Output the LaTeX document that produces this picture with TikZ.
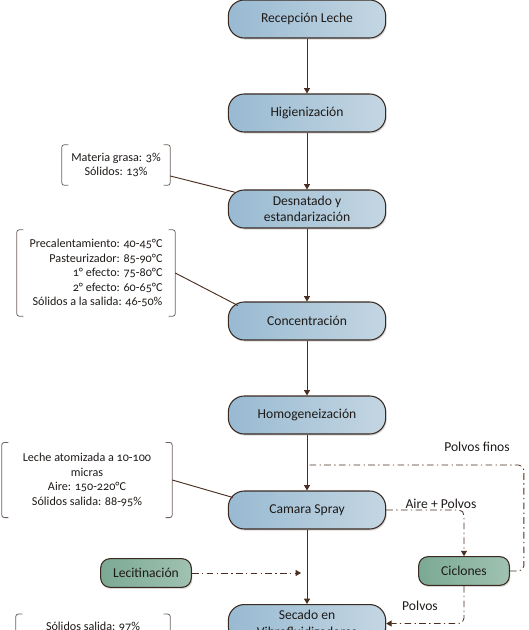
\documentclass[tikz,border=0pt]{standalone}
\usepackage{fontspec}
\setmainfont{Carlito}[Numbers=OldStyle]
\usepackage{xcolor}
\usepackage{tikz}
\usetikzlibrary{calc,arrows.meta,shadows}
\definecolor{ink}{HTML}{1E1A18}
\definecolor{brown}{HTML}{4A2E22}
\definecolor{edge}{HTML}{3A2A22}
\definecolor{brk}{HTML}{6E625C}
\definecolor{blueA}{HTML}{98BAD2}
\definecolor{blueB}{HTML}{C4D6E2}
\definecolor{greenA}{HTML}{7BA994}
\definecolor{greenB}{HTML}{A0C2B2}
\tikzset{
  step box/.style={draw=edge, line width=0.8pt, rounded corners=12pt,
    left color=blueA, right color=blueB, minimum width=118pt, minimum height=28.5pt,
    align=center, text=ink, font=\fontsize{10.2}{12.4}\selectfont,
    drop shadow={shadow xshift=0.8pt, shadow yshift=-1.2pt, opacity=0.3}},
  side box/.style={draw=edge, line width=0.8pt, rounded corners=7pt,
    left color=greenA, right color=greenB, minimum width=68pt, minimum height=21.5pt,
    text=ink, font=\fontsize{10.2}{12.4}\selectfont,
    drop shadow={shadow xshift=0.8pt, shadow yshift=-1.2pt, opacity=0.3}},
  note/.style={text=ink, font=\fontsize{9.1}{10.9}\selectfont, align=center, inner sep=0pt},
  flow/.style={draw=brown, line width=0.7pt, -{Triangle[width=4.5pt,length=4pt]}},
  link/.style={draw=brown, line width=0.7pt},
  back/.style={draw=brown, line width=0.6pt, rounded corners=4pt,
    dash pattern=on 5pt off 2.5pt on 1pt off 2.5pt},
  lab/.style={text=ink, font=\fontsize{10.2}{12.4}\selectfont},
  bracket/.style={draw=brk, line width=0.6pt, rounded corners=2pt},
}
% side brackets round a note
\newcommand{\notebrackets}[1]{%
  \draw[bracket] ([xshift=5pt]#1.north west) -- (#1.north west) -- (#1.south west) -- ([xshift=5pt]#1.south west);
  \draw[bracket] ([xshift=-5pt]#1.north east) -- (#1.north east) -- (#1.south east) -- ([xshift=-5pt]#1.south east);
}

\begin{document}
\begin{tikzpicture}[x=0.75pt,y=-0.75pt]
  \useasboundingbox (0,0) rectangle (528,630);
  \clip (0,0) rectangle (528,630);

  \node[step box] (rec) at (307,19) {Recepción Leche};
  \node[step box] (hig) at (307,113) {Higienización};
  \node[step box] (des) at (307,209) {Desnatado y\\estandarización};
  \node[step box] (con) at (307,321) {Concentración};
  \node[step box] (hom) at (307,415) {Homogeneización};
  \node[step box] (cam) at (307,510) {Camara Spray};
  \node[step box,anchor=north] (sec) at (307,604) {Secado en\\Vibrofluidizadores};

  \node[side box] (lec) at (146,573) {Lecitinación};
  \node[side box] (cic) at (464,571) {Ciclones};

  \node[note,minimum width=81pt,minimum height=30pt] (n1) at (116,165)
    {Materia grasa: 3\%\\Sólidos: 13\%};
  \node[note,align=right,minimum width=118.5pt,minimum height=64.5pt] (n2) at (96,273)
    {Precalentamiento: 40-45°C\\Pasteurizador: 85-90°C\\1° efecto: 75-80°C\\2° efecto: 60-65°C\\Sólidos a la salida: 46-50\%};
  \node[note,minimum width=127.5pt,minimum height=56pt] (n3) at (87,480)
    {Leche atomizada a 10-100\\micras\\Aire: 150-220°C\\Sólidos salida: 88-95\%};
  \node[note,anchor=north,minimum width=115.5pt,text height=12pt,text depth=40pt] (n4) at (93,614)
    {Sólidos salida: 97\%};
  \foreach \n in {n1,n2,n3,n4} {\notebrackets{\n}}

  % main line
  \draw[flow] (rec) -- (hig);
  \draw[flow] (hig) -- (des);
  \draw[flow] (des) -- (con);
  \draw[flow] (con) -- (hom);
  \draw[flow] (hom) -- (cam);
  \draw[flow] (cam) -- (sec);

  \draw[link] ($(n1.east)+(0,11)$) -- ($(des.north west)+(8,3)$);
  \draw[link] (n2.east) -- ($(con.north west)+(10,4)$);
  \draw[link] (n3.east) -- ($(cam.north west)+(5,7)$);

  % dust return
  \coordinate (lecend) at (301,573);
  \coordinate (finos) at (307,465);
  \draw[back,-{Triangle[width=4.5pt,length=4pt]}] (lec) -- (lecend);
  \draw[back,-{Triangle[width=4.5pt,length=4pt]}] (cam.east) -| (cic.north);
  \draw[back] (cic.east) -- ++(14,0) |- (finos);
  \draw[back,-{Triangle[width=4.5pt,length=4pt]}] (cic.south) |- (sec.east);

  \node[lab] at (441,504) {Aire + Polvos};
  \node[lab] at (477,447) {Polvos finos};
  \node[lab] at (420,606) {Polvos};
\end{tikzpicture}
\end{document}
